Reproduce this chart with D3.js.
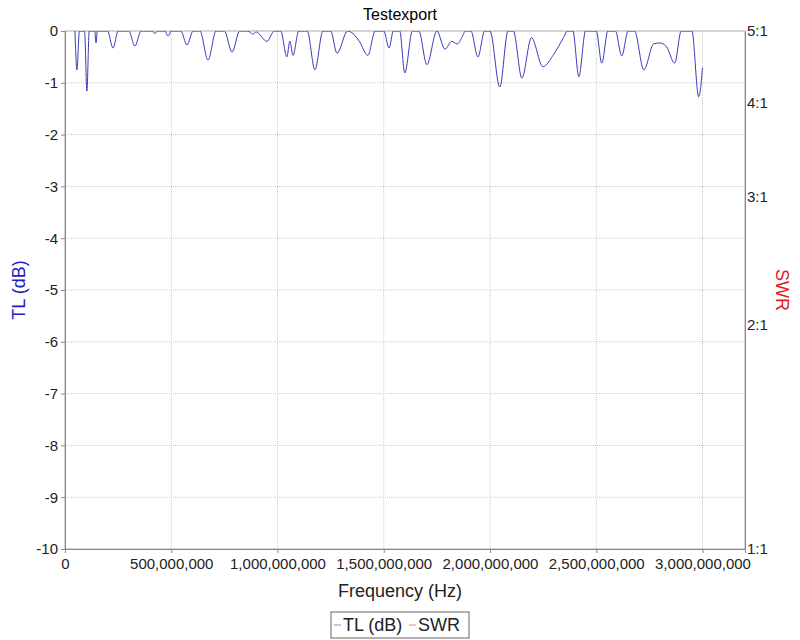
<!DOCTYPE html>
<html><head><meta charset="utf-8">
<script src="https://cdn.jsdelivr.net/npm/d3@7"></script>
<style>body{margin:0;background:#fff}text{font-family:"Liberation Sans",Arial,sans-serif}</style>
</head><body><svg id="c" width="800" height="640"></svg>
<script>
const freqMHz=[47,56,68,92,103,114,140,146,152,200,226,250,300,329,358,410,423,436,470,485,500,545,574,603,635,673,711,750,786,822,860,884,900,950,985,1015,1044,1058,1073,1100,1140,1176,1214,1250,1280,1330,1355,1385,1425,1460,1500,1525,1545,1575,1599,1635,1665,1703,1750,1788,1820,1845,1867,1885,1910,1943,1975,2000,2046,2085,2110,2150,2195,2249,2300,2343,2365,2390,2418,2450,2500,2526,2555,2590,2620,2650,2680,2724,2770,2799,2830,2869,2900,2950,2982,3000];
const tlDb=[0,-0.75,0,0,-1.16,0,0,-0.23,0,0,-0.33,0,0,-0.29,0,0,-0.05,0,0,-0.1,0,0,-0.27,0,0,-0.56,0,0,-0.41,0,0,-0.06,-0.02,-0.2,0,0,-0.5,-0.2,-0.47,0,0,-0.75,0,0,-0.43,0,-0.05,-0.2,-0.47,0,0,-0.33,0,0,-0.81,0,0,-0.65,0,-0.35,-0.2,-0.25,-0.13,0,0,-0.5,0,0,-1.08,0,0,-0.91,-0.13,-0.69,-0.45,-0.15,0,0,-0.88,0,0,-0.62,0,0,-0.48,0,0,-0.75,-0.25,-0.23,-0.3,-0.62,0,0,-1.27,-0.71];
const xTicks=[0,5e8,1e9,1.5e9,2e9,2.5e9,3e9];
const yTicks=[0,-1,-2,-3,-4,-5,-6,-7,-8,-9,-10];
const swrTicks=[1,2,3,4,5];
const swrTickLabels=["1:1","2:1","3:1","4:1","5:1"];

const svg=d3.select("#c");
const L=65,R=745,T=31,B=549;
const x=d3.scaleLinear().domain([0,3.2e9]).range([L,R]);
const y=d3.scaleLinear().domain([-10,0]).range([B,T]);
const ySwr=d3.scaleLinear().domain(swrTicks).range([549,325,197,103,31]);
const grid=svg.append("g").attr("stroke","#c8c8c8").attr("stroke-dasharray","1,1");
xTicks.slice(1).forEach(v=>grid.append("line").attr("x1",x(v)).attr("x2",x(v)).attr("y1",T).attr("y2",B));
yTicks.slice(1,-1).forEach(v=>grid.append("line").attr("x1",L).attr("x2",R).attr("y1",y(v)).attr("y2",y(v)));
svg.append("rect").attr("x",L).attr("y",T).attr("width",R-L).attr("height",B-T).attr("fill","none").attr("stroke","#aaa");
const fmt=d3.format(",");
svg.append("g").attr("transform",`translate(0,${B})`).call(d3.axisBottom(x).tickValues(xTicks).tickFormat(fmt).tickSize(4))
 .call(g=>{g.select(".domain").attr("stroke","#888");g.selectAll("line").attr("stroke","#888");g.selectAll("text").attr("font-size",15).attr("fill","#222").attr("dy","0.85em");});
svg.append("g").attr("transform",`translate(${L},0)`).call(d3.axisLeft(y).tickValues(yTicks).tickFormat(d=>String(d)).tickSize(4))
 .call(g=>{g.select(".domain").attr("stroke","#888");g.selectAll("line").attr("stroke","#888");g.selectAll("text").attr("font-size",15).attr("fill","#222");});
svg.append("g").attr("transform",`translate(${R},0)`).call(d3.axisRight(ySwr).tickValues(swrTicks).tickFormat((d,i)=>swrTickLabels[i]).tickSize(0).tickPadding(2))
 .call(g=>{g.select(".domain").attr("stroke","#888");g.selectAll("text").attr("font-size",15).attr("fill","#222");});
svg.append("clipPath").attr("id","cp").append("rect").attr("x",L).attr("y",T).attr("width",R-L).attr("height",B-T);
svg.append("path").datum(freqMHz.map((f,i)=>[f*1e6,tlDb[i]])).attr("clip-path","url(#cp)")
 .attr("fill","none").attr("stroke","#3b3bb8").attr("stroke-width",1)
 .attr("d",d3.line().x(d=>x(d[0])).y(d=>y(d[1])).curve(d3.curveMonotoneX));
svg.append("text").attr("x",400).attr("y",20).attr("text-anchor","middle").attr("font-size",16).attr("fill","#000").text("Testexport");
svg.append("text").attr("x",400).attr("y",597).attr("text-anchor","middle").attr("font-size",18).attr("fill","#222").text("Frequency (Hz)");
svg.append("text").attr("transform","translate(25,290) rotate(-90)").attr("text-anchor","middle").attr("font-size",18).attr("fill","#2020c0").text("TL (dB)");
svg.append("text").attr("transform","translate(776,290) rotate(90)").attr("text-anchor","middle").attr("font-size",18).attr("fill","#e02020").text("SWR");
const lg=svg.append("g");
lg.append("rect").attr("x",331).attr("y",612).attr("width",138).attr("height",26).attr("fill","#fff").attr("stroke","#666");
lg.append("line").attr("x1",334).attr("x2",341).attr("y1",625).attr("y2",625).attr("stroke","#8888cc");
lg.append("text").attr("x",343).attr("y",631).attr("font-size",18).attr("fill","#222").text("TL (dB)");
lg.append("line").attr("x1",409).attr("x2",416).attr("y1",625).attr("y2",625).attr("stroke","#dd8888");
lg.append("text").attr("x",418).attr("y",631).attr("font-size",18).attr("fill","#222").text("SWR");
</script></body></html>
